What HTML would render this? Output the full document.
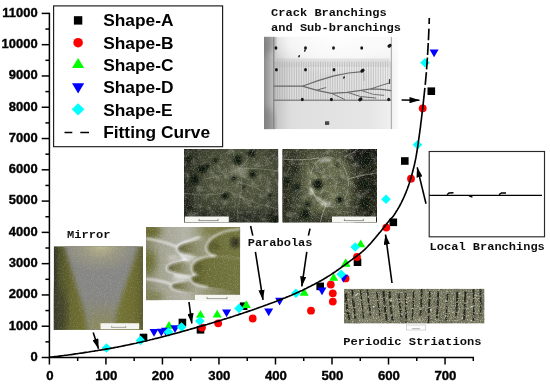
<!DOCTYPE html><html><head><meta charset="utf-8"><title>Fracture surface chart</title>
<style>html,body{margin:0;padding:0;background:#fff}svg{display:block}.ax{font-family:"Liberation Sans",sans-serif;font-weight:bold;font-size:12px;fill:#000;stroke:#000;stroke-width:0.35px}.lg{font-family:"Liberation Sans",sans-serif;font-weight:bold;font-size:17px;fill:#000}.an{font-family:"Liberation Mono",monospace;font-weight:bold;font-size:10.2px;fill:#111}</style></head><body>
<svg width="550" height="386" viewBox="0 0 550 386">
<defs>
<filter id="soft" x="-5%" y="-5%" width="110%" height="110%"><feGaussianBlur stdDeviation="0.45"/></filter>
<filter id="b1"><feGaussianBlur stdDeviation="1"/></filter>
<filter id="b15"><feGaussianBlur stdDeviation="1.5"/></filter>
<filter id="b2"><feGaussianBlur stdDeviation="2"/></filter>
<filter id="b3"><feGaussianBlur stdDeviation="3.5"/></filter>
<filter id="b6"><feGaussianBlur stdDeviation="6"/></filter>
<filter id="noiseA" x="0" y="0" width="100%" height="100%">
  <feTurbulence type="fractalNoise" baseFrequency="0.85" numOctaves="2" seed="3" result="n"/>
  <feColorMatrix in="n" type="matrix" values="0 0 0 0 0.96  0 0 0 0 0.96  0 0 0 0 0.88  3.2 0 0 0 -1.55" result="c"/>
  <feGaussianBlur in="c" stdDeviation="0.3"/>
</filter>
<filter id="mottle" x="0" y="0" width="100%" height="100%">
  <feTurbulence type="fractalNoise" baseFrequency="0.11" numOctaves="3" seed="11" result="n"/>
  <feColorMatrix in="n" type="matrix" values="0 0 0 0 0.06  0 0 0 0 0.07  0 0 0 0 0.04  0 3.0 0 0 -1.3"/>
</filter>
<filter id="mottleW" x="0" y="0" width="100%" height="100%">
  <feTurbulence type="fractalNoise" baseFrequency="0.16" numOctaves="3" seed="23" result="n"/>
  <feColorMatrix in="n" type="matrix" values="0 0 0 0 0.9  0 0 0 0 0.92  0 0 0 0 0.84  0 0 3.0 0 -1.45"/>
</filter>
<filter id="noiseD" x="0" y="0" width="100%" height="100%">
  <feTurbulence type="fractalNoise" baseFrequency="0.6" numOctaves="2" seed="8" result="n"/>
  <feColorMatrix in="n" type="matrix" values="0 0 0 0 0  0 0 0 0 0  0 0 0 0 0  0 2.2 0 0 -0.95" result="c"/><feGaussianBlur in="c" stdDeviation="0.35"/>
</filter>
<marker id="ah" viewBox="0 0 10 6" refX="9.6" refY="3" markerWidth="10.6" markerHeight="6.2" orient="auto" markerUnits="userSpaceOnUse"><path d="M0,0 L10,3 L0,6 z" fill="#000"/></marker>
</defs>
<rect width="550" height="386" fill="#fff"/>
<g filter="url(#soft)">
<g stroke="#000" stroke-width="1.5" fill="none">
<path d="M49.4,12.699999999999978 V357.5 H474.0"/>
<path d="M41.699999999999996,357.50 H49.4"/>
<path d="M45.4,341.86 H49.4"/>
<path d="M41.699999999999996,326.22 H49.4"/>
<path d="M45.4,310.58 H49.4"/>
<path d="M41.699999999999996,294.94 H49.4"/>
<path d="M45.4,279.30 H49.4"/>
<path d="M41.699999999999996,263.65 H49.4"/>
<path d="M45.4,248.01 H49.4"/>
<path d="M41.699999999999996,232.37 H49.4"/>
<path d="M45.4,216.73 H49.4"/>
<path d="M41.699999999999996,201.09 H49.4"/>
<path d="M45.4,185.45 H49.4"/>
<path d="M41.699999999999996,169.81 H49.4"/>
<path d="M45.4,154.17 H49.4"/>
<path d="M41.699999999999996,138.53 H49.4"/>
<path d="M45.4,122.89 H49.4"/>
<path d="M41.699999999999996,107.25 H49.4"/>
<path d="M45.4,91.60 H49.4"/>
<path d="M41.699999999999996,75.96 H49.4"/>
<path d="M45.4,60.32 H49.4"/>
<path d="M41.699999999999996,44.68 H49.4"/>
<path d="M45.4,29.04 H49.4"/>
<path d="M41.699999999999996,13.40 H49.4"/>
<path d="M49.40,357.5 V364.5"/>
<path d="M77.66,357.5 V361.0"/>
<path d="M105.92,357.5 V364.5"/>
<path d="M134.18,357.5 V361.0"/>
<path d="M162.44,357.5 V364.5"/>
<path d="M190.70,357.5 V361.0"/>
<path d="M218.96,357.5 V364.5"/>
<path d="M247.22,357.5 V361.0"/>
<path d="M275.48,357.5 V364.5"/>
<path d="M303.74,357.5 V361.0"/>
<path d="M332.00,357.5 V364.5"/>
<path d="M360.26,357.5 V361.0"/>
<path d="M388.52,357.5 V364.5"/>
<path d="M416.78,357.5 V361.0"/>
<path d="M445.04,357.5 V364.5"/>
<path d="M473.30,357.5 V361.0"/>
</g>
<text class="ax" transform="translate(37.6,360.90) scale(1.08,1)" text-anchor="end">0</text>
<text class="ax" transform="translate(37.6,329.62) scale(1.08,1)" text-anchor="end">1000</text>
<text class="ax" transform="translate(37.6,298.34) scale(1.08,1)" text-anchor="end">2000</text>
<text class="ax" transform="translate(37.6,267.05) scale(1.08,1)" text-anchor="end">3000</text>
<text class="ax" transform="translate(37.6,235.77) scale(1.08,1)" text-anchor="end">4000</text>
<text class="ax" transform="translate(37.6,204.49) scale(1.08,1)" text-anchor="end">5000</text>
<text class="ax" transform="translate(37.6,173.21) scale(1.08,1)" text-anchor="end">6000</text>
<text class="ax" transform="translate(37.6,141.93) scale(1.08,1)" text-anchor="end">7000</text>
<text class="ax" transform="translate(37.6,110.65) scale(1.08,1)" text-anchor="end">8000</text>
<text class="ax" transform="translate(37.6,79.36) scale(1.08,1)" text-anchor="end">9000</text>
<text class="ax" transform="translate(37.6,48.08) scale(1.08,1)" text-anchor="end">10000</text>
<text class="ax" transform="translate(37.6,16.80) scale(1.08,1)" text-anchor="end">11000</text>
<text class="ax" transform="translate(49.80,380) scale(1.1,1)" text-anchor="middle">0</text>
<text class="ax" transform="translate(106.32,380) scale(1.1,1)" text-anchor="middle">100</text>
<text class="ax" transform="translate(162.84,380) scale(1.1,1)" text-anchor="middle">200</text>
<text class="ax" transform="translate(219.36,380) scale(1.1,1)" text-anchor="middle">300</text>
<text class="ax" transform="translate(275.88,380) scale(1.1,1)" text-anchor="middle">400</text>
<text class="ax" transform="translate(332.40,380) scale(1.1,1)" text-anchor="middle">500</text>
<text class="ax" transform="translate(388.92,380) scale(1.1,1)" text-anchor="middle">600</text>
<text class="ax" transform="translate(445.44,380) scale(1.1,1)" text-anchor="middle">700</text>
<rect x="139.7" y="333.7" width="7.6" height="7.6" fill="#000"/>
<rect x="178.6" y="318.7" width="7.6" height="7.6" fill="#000"/>
<rect x="196.7" y="326.0" width="7.6" height="7.6" fill="#000"/>
<rect x="239.8" y="302.4" width="7.6" height="7.6" fill="#000"/>
<rect x="316.4" y="282.6" width="7.6" height="7.6" fill="#000"/>
<rect x="353.7" y="258.4" width="7.6" height="7.6" fill="#000"/>
<rect x="389.5" y="218.5" width="7.6" height="7.6" fill="#000"/>
<rect x="401.0" y="157.2" width="7.6" height="7.6" fill="#000"/>
<rect x="427.5" y="87.4" width="7.6" height="7.6" fill="#000"/>
<circle cx="311.0" cy="310.7" r="3.9" fill="#ff0000"/>
<circle cx="202.0" cy="327.6" r="3.9" fill="#ff0000"/>
<circle cx="218.2" cy="323.3" r="3.9" fill="#ff0000"/>
<circle cx="252.7" cy="318.5" r="3.9" fill="#ff0000"/>
<circle cx="330.8" cy="284.6" r="3.9" fill="#ff0000"/>
<circle cx="332.8" cy="293.3" r="3.9" fill="#ff0000"/>
<circle cx="332.8" cy="301.6" r="3.9" fill="#ff0000"/>
<circle cx="345.6" cy="278.4" r="3.9" fill="#ff0000"/>
<circle cx="357.0" cy="257.0" r="3.9" fill="#ff0000"/>
<circle cx="386.3" cy="227.6" r="3.9" fill="#ff0000"/>
<circle cx="411.0" cy="178.7" r="3.9" fill="#ff0000"/>
<circle cx="422.7" cy="108.3" r="3.9" fill="#ff0000"/>
<path d="M164.5,328.7 L173.5,328.7 L169.0,321.0 z" fill="#00ff00"/>
<path d="M196.0,317.7 L205.0,317.7 L200.5,310.0 z" fill="#00ff00"/>
<path d="M212.7,317.4 L221.7,317.4 L217.2,309.7 z" fill="#00ff00"/>
<path d="M241.8,307.9 L250.8,307.9 L246.3,300.2 z" fill="#00ff00"/>
<path d="M299.7,295.8 L308.7,295.8 L304.2,288.1 z" fill="#00ff00"/>
<path d="M329.2,280.8 L338.2,280.8 L333.7,273.1 z" fill="#00ff00"/>
<path d="M341.1,266.2 L350.1,266.2 L345.6,258.5 z" fill="#00ff00"/>
<path d="M341.4,266.8 L350.4,266.8 L345.9,259.1 z" fill="#00ff00"/>
<path d="M356.2,247.2 L365.2,247.2 L360.7,239.5 z" fill="#00ff00"/>
<path d="M149.5,329.1 L158.5,329.1 L154.0,336.8 z" fill="#0000ff"/>
<path d="M156.8,328.8 L165.8,328.8 L161.3,336.5 z" fill="#0000ff"/>
<path d="M161.0,327.8 L170.0,327.8 L165.5,335.5 z" fill="#0000ff"/>
<path d="M170.5,325.2 L179.5,325.2 L175.0,332.9 z" fill="#0000ff"/>
<path d="M222.1,309.5 L231.1,309.5 L226.6,317.2 z" fill="#0000ff"/>
<path d="M264.2,308.5 L273.2,308.5 L268.7,316.2 z" fill="#0000ff"/>
<path d="M275.1,297.8 L284.1,297.8 L279.6,305.5 z" fill="#0000ff"/>
<path d="M317.5,287.5 L326.5,287.5 L322.0,295.2 z" fill="#0000ff"/>
<path d="M339.0,274.8 L348.0,274.8 L343.5,282.5 z" fill="#0000ff"/>
<path d="M429.6,49.5 L438.6,49.5 L434.1,57.2 z" fill="#0000ff"/>
<path d="M101.7,348.0 L106.5,343.2 L111.3,348.0 L106.5,352.8 z" fill="#00ffff"/>
<path d="M135.7,340.4 L140.5,335.6 L145.3,340.4 L140.5,345.2 z" fill="#00ffff"/>
<path d="M163.7,332.0 L168.5,327.2 L173.3,332.0 L168.5,336.8 z" fill="#00ffff"/>
<path d="M176.8,327.0 L181.6,322.2 L186.4,327.0 L181.6,331.8 z" fill="#00ffff"/>
<path d="M195.0,321.0 L199.8,316.2 L204.6,321.0 L199.8,325.8 z" fill="#00ffff"/>
<path d="M234.2,308.4 L239.0,303.6 L243.8,308.4 L239.0,313.2 z" fill="#00ffff"/>
<path d="M291.1,293.3 L295.9,288.5 L300.7,293.3 L295.9,298.1 z" fill="#00ffff"/>
<path d="M336.4,274.3 L341.2,269.5 L346.0,274.3 L341.2,279.1 z" fill="#00ffff"/>
<path d="M350.4,247.0 L355.2,242.2 L360.0,247.0 L355.2,251.8 z" fill="#00ffff"/>
<path d="M381.2,199.2 L386.0,194.4 L390.8,199.2 L386.0,204.0 z" fill="#00ffff"/>
<path d="M412.7,144.8 L417.5,140.0 L422.3,144.8 L417.5,149.6 z" fill="#00ffff"/>
<path d="M420.2,62.7 L425.0,57.9 L429.8,62.7 L425.0,67.5 z" fill="#00ffff"/>
<path fill="none" stroke="#000" stroke-width="1.65" stroke-linejoin="round" d="M49.3,357.3 L50.8,357.1 L52.2,357.0 L53.7,356.8 L55.1,356.6 L56.6,356.5 L58.0,356.3 L59.5,356.1 L61.0,355.9 L62.4,355.7 L63.9,355.5 L65.3,355.3 L66.8,355.2 L68.2,355.0 L69.7,354.8 L71.1,354.6 L72.6,354.4 L74.0,354.1 L75.5,353.9 L76.9,353.7 L78.4,353.5 L79.8,353.3 L81.3,353.1 L82.7,352.9 L84.2,352.6 L85.6,352.4 L87.1,352.2 L88.5,352.0 L90.0,351.7 L91.4,351.5 L92.9,351.3 L94.3,351.1 L95.8,350.8 L97.2,350.6 L98.7,350.3 L100.1,350.1 L101.6,349.9 L103.0,349.6 L104.4,349.4 L105.9,349.1 L107.3,348.9 L108.8,348.7 L110.2,348.4 L111.7,348.1 L113.1,347.9 L114.6,347.6 L116.0,347.3 L117.4,347.1 L118.9,346.8 L120.3,346.5 L121.8,346.2 L123.2,345.9 L124.6,345.6 L126.1,345.3 L127.5,345.0 L128.9,344.7 L130.4,344.4 L131.8,344.1 L133.2,343.8 L134.7,343.5 L136.1,343.2 L137.5,342.8 L138.9,342.5 L140.4,342.2 L141.8,341.9 L143.2,341.5 L144.7,341.2 L146.1,340.9 L147.5,340.5 L148.9,340.2 L150.4,339.8 L151.8,339.5 L153.2,339.1 L154.6,338.8 L156.1,338.4 L157.5,338.1 L158.9,337.7 L160.3,337.4 L161.8,337.0 L163.2,336.6 L164.6,336.3 L166.0,335.9 L167.4,335.5 L168.9,335.1 L170.3,334.8 L171.7,334.4 L173.1,334.0 L174.5,333.6 L175.9,333.2 L177.4,332.9 L178.8,332.5 L180.2,332.1 L181.6,331.7 L183.0,331.3 L184.4,330.9 L185.8,330.5 L187.3,330.1 L188.7,329.7 L190.1,329.3 L191.5,328.9 L192.9,328.5 L194.3,328.1 L195.7,327.7 L197.1,327.3 L198.5,326.9 L199.9,326.5 L201.3,326.1 L202.8,325.7 L204.2,325.3 L205.6,324.9 L207.0,324.5 L208.4,324.0 L209.8,323.6 L211.2,323.2 L212.6,322.8 L214.0,322.4 L215.4,321.9 L216.8,321.5 L218.2,321.1 L219.6,320.6 L221.0,320.2 L222.4,319.8 L223.8,319.3 L225.2,318.9 L226.6,318.5 L228.0,318.0 L229.4,317.6 L230.8,317.1 L232.2,316.7 L233.6,316.2 L235.0,315.8 L236.4,315.3 L237.8,314.9 L239.2,314.4 L240.6,313.9 L242.0,313.5 L243.4,313.0 L244.8,312.5 L246.1,312.1 L247.5,311.6 L248.9,311.1 L250.3,310.6 L251.7,310.2 L253.1,309.7 L254.5,309.2 L255.9,308.7 L257.2,308.2 L258.6,307.7 L260.0,307.2 L261.4,306.8 L262.8,306.3 L264.1,305.8 L265.5,305.3 L266.9,304.8 L268.3,304.2 L269.6,303.7 L271.0,303.2 L272.4,302.7 L273.8,302.2 L275.1,301.7 L276.5,301.2 L277.9,300.6 L279.2,300.1 L280.6,299.6 L282.0,299.1 L283.3,298.5 L284.7,298.0 L286.0,297.4 L287.4,296.9 L288.8,296.3 L290.1,295.7 L291.5,295.2 L292.8,294.6 L294.2,294.0 L295.5,293.4 L296.8,292.8 L298.2,292.2 L299.5,291.6 L300.8,291.0 L302.2,290.4 L303.5,289.7 L304.8,289.1 L306.1,288.5 L307.4,287.8 L308.7,287.1 L310.1,286.5 L311.4,285.8 L312.7,285.1 L314.0,284.5 L315.3,283.8 L316.6,283.1 L317.8,282.4 L319.1,281.6 L320.4,280.9 L321.7,280.2 L323.0,279.5 L324.2,278.7 L325.5,278.0 L326.7,277.2 L328.0,276.4 L329.2,275.7 L330.5,274.9 L331.7,274.1 L332.9,273.3 L334.1,272.5 L335.3,271.7 L336.5,270.8 L337.7,270.0 L338.9,269.1 L340.1,268.3 L341.3,267.4 L342.5,266.5 L343.7,265.7 L344.9,264.8 L346.1,263.9 L347.2,263.1 L348.4,262.2 L349.6,261.3 L350.8,260.4 L352.0,259.6 L353.1,258.7 L354.3,257.8 L355.5,257.0 L356.7,256.1 L357.9,255.2 L359.1,254.3 L360.2,253.4 L361.3,252.5 L362.4,251.5 L363.5,250.6 L364.6,249.6 L365.6,248.6 L366.7,247.5 L367.7,246.5 L368.7,245.4 L369.7,244.4 L370.7,243.3 L371.6,242.2 L372.6,241.0 L373.6,239.9 L374.5,238.8 L375.5,237.7 L376.4,236.5 L377.3,235.4 L378.3,234.3 L379.2,233.1 L380.2,232.0 L381.1,230.9 L382.0,229.8 L383.0,228.6 L383.9,227.5 L384.8,226.3 L385.7,225.2 L386.6,224.0 L387.5,222.8 L388.4,221.7 L389.3,220.6 L390.3,219.4 L391.3,218.4 L392.3,217.3 L393.2,216.2 L394.1,215.0 L394.9,213.8 L395.6,212.6 L396.4,211.3 L397.2,210.1 L397.9,208.8 L398.7,207.6 L399.4,206.3 L400.1,205.0 L400.8,203.7 L401.5,202.3 L402.1,201.0 L402.8,199.7 L403.4,198.3 L404.0,197.0 L404.6,195.6 L405.2,194.2 L405.8,192.9 L406.3,191.5 L406.8,190.2 L407.4,188.8 L407.8,187.4 L408.3,186.1 L408.8,184.7 L409.3,183.3 L409.7,181.9 L410.2,180.5 L410.6,179.1 L411.0,177.7 L411.4,176.3 L411.8,174.9 L412.2,173.5 L412.6,172.0 L413.0,170.6 L413.3,169.2 L413.7,167.8 L414.0,166.3 L414.4,164.9 L414.7,163.4 L415.0,162.0 L415.3,160.6 L415.6,159.1 L415.9,157.7 L416.1,156.3 L416.4,154.8 L416.6,153.4 L416.9,152.0 L417.1,150.5 L417.3,149.1 L417.6,147.6 L417.8,146.2 L418.0,144.7 L418.2,143.3 L418.4,141.8 L418.6,140.3 L418.8,138.9 L419.0,137.4 L419.2,136.0 L419.4,134.5 L419.6,133.1 L419.8,131.6 L420.0,130.2 L420.2,128.7 L420.4,127.3 L420.6,125.8 L420.7,124.3 L420.9,122.9 L421.1,121.4 L421.3,120.0 L421.5,118.5 L421.6,117.1 L421.8,115.6 L422.0,114.2 L422.2,112.7 L422.3,111.2 L422.5,109.8 L422.7,108.3 L422.8,106.9 L423.0,105.4 L423.2,104.0 L423.3,102.5 L423.5,101.0 L423.6,99.6 L423.8,98.1 L424.0,96.7 L424.1,95.2 L424.3,93.8 L424.4,92.3 L424.6,90.8 L424.7,89.4 L424.9,87.9"/>
<path stroke="#000" stroke-width="1.65" d="M429.29,18 L429.12,23.9"/>
<path stroke="#000" stroke-width="1.65" d="M428.95,28.6 L428.42,40.2"/>
<path stroke="#000" stroke-width="1.65" d="M428.27,43 L427.56,55"/>
<path stroke="#000" stroke-width="1.65" d="M427.40,57.6 L426.60,69.4"/>
<path stroke="#000" stroke-width="1.65" d="M426.39,72.2 L425.22,84.8"/>
</g>
<g filter="url(#soft)">
<rect x="53.6" y="5.9" width="169" height="140.8" fill="#fff" stroke="#1a1a1a" stroke-width="1.15"/>
<rect x="73.9" y="16.2" width="8.4" height="8.4" fill="#000"/>
<circle cx="78.1" cy="42.7" r="4.8" fill="#ff0000"/>
<path d="M72.0,68.1 L84.2,68.1 L78.1,58.1 z" fill="#00ff00"/>
<path d="M72.0,83.2 L84.2,83.2 L78.1,93.4 z" fill="#0000ff"/>
<path d="M71.8,109.3 L78.1,103.2 L84.4,109.3 L78.1,115.4 z" fill="#00ffff"/>
<path d="M64.5,132.5 H72.3 M80.3,132.5 H89" stroke="#000" stroke-width="1.7"/>
<text class="lg" transform="translate(103.2,26.3) scale(1.02,1)">Shape-A</text>
<text class="lg" transform="translate(103.2,48.7) scale(1.02,1)">Shape-B</text>
<text class="lg" transform="translate(103.2,71.0) scale(1.02,1)">Shape-C</text>
<text class="lg" transform="translate(103.2,93.4) scale(1.02,1)">Shape-D</text>
<text class="lg" transform="translate(103.2,115.7) scale(1.02,1)">Shape-E</text>
<text class="lg" transform="translate(103.2,138.1) scale(1.02,1)">Fitting Curve</text>
</g>
<g filter="url(#soft)">
<text class="an" x="271" y="16.3" textLength="115.7" lengthAdjust="spacingAndGlyphs">Crack Branchings</text>
<text class="an" x="271" y="31" textLength="130" lengthAdjust="spacingAndGlyphs">and Sub-branchings</text>
<text class="an" x="67" y="238" textLength="43.5" lengthAdjust="spacingAndGlyphs">Mirror</text>
<text class="an" x="247.7" y="245.7" textLength="64.8" lengthAdjust="spacingAndGlyphs">Parabolas</text>
<text class="an" x="429.6" y="250.1" textLength="115.2" lengthAdjust="spacingAndGlyphs">Local Branchings</text>
<text class="an" x="343.3" y="344.8" textLength="138.2" lengthAdjust="spacingAndGlyphs">Periodic Striations</text>
<g stroke="#000" stroke-width="1.6" fill="none">
<path d="M250.6,226 L252.8,235.6"/>
<path d="M255.4,251.8 L263,299.8" marker-end="url(#ah)"/>
<path d="M310,228.6 L308.4,235.6"/>
<path d="M306.8,251.8 L301.8,286.3" marker-end="url(#ah)"/>
<path d="M189,302 L191.8,323.3" marker-end="url(#ah)"/>
<path d="M93.2,332.4 L98.5,348.7" marker-end="url(#ah)"/>
<path d="M392,283 L385.5,234.7" marker-end="url(#ah)"/>
<path d="M426,203.8 L417.2,167.4" marker-end="url(#ah)"/>
<path d="M401.6,100 L419.4,100.2" marker-end="url(#ah)"/>
</g>
</g>
<g filter="url(#soft)">
<rect x="429.2" y="151.5" width="115.3" height="85.3" fill="#fff" stroke="#2a2a2a" stroke-width="1.15"/>
<path d="M429.2,195.4 H542" stroke="#000" stroke-width="1.1"/>
<path d="M447,194.8 l2,-1.8 l4.5,-0.2 M469,195.8 l3.5,1.3 M499,194.6 l2.5,-1.6 l4.5,0" stroke="#000" stroke-width="1.4" fill="none"/>
</g>
<svg x="53.7" y="246.2" width="89.4" height="83.7" viewBox="0 0 89.4 83.7">
<defs><linearGradient id="mg" x1="0" x2="1"><stop offset="0" stop-color="#30322a"/><stop offset="0.07" stop-color="#505229"/><stop offset="0.2" stop-color="#66662f"/><stop offset="0.38" stop-color="#727233"/><stop offset="0.7" stop-color="#747434"/><stop offset="0.9" stop-color="#6c6c30"/><stop offset="1" stop-color="#5a5b2e"/></linearGradient><radialGradient id="mg2" cx="0.5" cy="0" r="0.75"><stop offset="0" stop-color="#bcb890"/><stop offset="0.4" stop-color="#a8a480" stop-opacity="0.5"/><stop offset="0.8" stop-color="#a8a480" stop-opacity="0"/></radialGradient><linearGradient id="mg3" x1="0" x2="0" y1="0" y2="1"><stop offset="0" stop-color="#8c8a50" stop-opacity="0"/><stop offset="1" stop-color="#8c8a50" stop-opacity="0.85"/></linearGradient></defs>
<rect width="89.4" height="83.7" fill="url(#mg)"/>
<ellipse cx="2" cy="66" rx="11" ry="26" fill="#3a3c2a" opacity="0.75" filter="url(#b3)"/>
<path d="M9,-5 L87,-5 L62.5,66 L59,92 L36,92 L31,66 z" fill="#868684" filter="url(#b2)"/>
<rect x="14" y="0" width="66" height="44" fill="url(#mg2)"/>
<path d="M32,52 L62,52 L58,84 L37,84 z" fill="url(#mg3)" filter="url(#b2)"/>
<rect width="89.4" height="83.7" filter="url(#noiseA)" opacity="0.14"/>
<rect x="46.8" y="77" width="38.7" height="6" fill="#f4f4f0"/>
<path d="M58,81.6 v-2 M72,81.6 v-2 M58,81.2 H72" stroke="#777" stroke-width="0.6" fill="none"/>
</svg>
<svg x="146" y="227" width="94.2" height="73.3" viewBox="0 0 94.2 73.3">
<defs><linearGradient id="p3" x1="0" x2="1"><stop offset="0" stop-color="#858668"/><stop offset="0.15" stop-color="#a2a290"/><stop offset="0.42" stop-color="#b2b2a6"/><stop offset="0.68" stop-color="#90916e"/><stop offset="1" stop-color="#6f713e"/></linearGradient><linearGradient id="lfL" x1="0" x2="1"><stop offset="0" stop-color="#5c5d36"/><stop offset="0.45" stop-color="#797a50" stop-opacity="0.92"/><stop offset="1" stop-color="#96967a" stop-opacity="0.5"/></linearGradient><linearGradient id="lfR" x1="0" x2="1"><stop offset="0" stop-color="#5a5c2e"/><stop offset="0.4" stop-color="#6e7038"/><stop offset="1" stop-color="#73753f"/></linearGradient><linearGradient id="lfR2" gradientUnits="userSpaceOnUse" x1="44" x2="94" y1="0" y2="0"><stop offset="0" stop-color="#62642f"/><stop offset="0.35" stop-color="#6c6e38"/><stop offset="1" stop-color="#72743e"/></linearGradient><linearGradient id="lsk" x1="0" x2="1"><stop offset="0" stop-color="#f4f4fa"/><stop offset="0.35" stop-color="#e8e8e8" stop-opacity="0.75"/><stop offset="0.7" stop-color="#d0d0c0" stop-opacity="0.15"/><stop offset="1" stop-color="#d0d0c0" stop-opacity="0"/></linearGradient></defs>
<rect width="94.2" height="73.3" fill="url(#p3)"/>
<g filter="url(#b3)"><ellipse cx="4" cy="4" rx="11" ry="8" fill="#66682f"/><ellipse cx="2" cy="35" rx="8" ry="12" fill="#6c6e34"/><ellipse cx="6" cy="70" rx="12" ry="5" fill="#7c7c4c"/><ellipse cx="75" cy="4" rx="22" ry="5" fill="#77783f"/></g>
<g filter="url(#b1)" stroke="#f0f0f6" stroke-width="2.2" fill="none" opacity="0.9"><path d="M0,11.5 Q18,14 31,20 M32,19 Q42,13 54,10 M0,52 Q14,53 25,57 M34,27 Q40,33 45,38 M28,48 Q38,50 44,50 M40,33 Q34,34 30,37"/></g>
<path d="M60,13.2 C39.7,14.52 31,16.72 31,22 C31,26.8 39.7,28.8 60,30" fill="url(#lfL)"/><path d="M60,13.2 C39.7,14.52 31,16.72 31,22 C31,26.8 39.7,28.8 60,30" fill="none" stroke="url(#lsk)" stroke-width="1.7" filter="url(#b1)"/>
<path d="M46.7,33.2 C28.5,34.445 20.7,36.519999999999996 20.7,41.5 C20.7,45.22 28.5,46.769999999999996 46.7,47.7" fill="url(#lfL)"/><path d="M46.7,33.2 C28.5,34.445 20.7,36.519999999999996 20.7,41.5 C20.7,45.22 28.5,46.769999999999996 46.7,47.7" fill="none" stroke="url(#lsk)" stroke-width="1.7" filter="url(#b1)"/>
<path d="M48.9,54 C32.099999999999994,54.75 24.9,56.0 24.9,59 C24.9,62.78 32.099999999999994,64.355 48.9,65.3" fill="url(#lfL)"/><path d="M48.9,54 C32.099999999999994,54.75 24.9,56.0 24.9,59 C24.9,62.78 32.099999999999994,64.355 48.9,65.3" fill="none" stroke="url(#lsk)" stroke-width="1.7" filter="url(#b1)"/>
<g filter="url(#b2)" fill="#f4f4f8" opacity="0.55"><ellipse cx="42" cy="31" rx="7" ry="3.5"/><ellipse cx="34" cy="51.5" rx="8" ry="2.6"/><ellipse cx="27" cy="31" rx="5" ry="2"/></g>
<path d="M94.2,2 C80,3 62,8 60,20.7 C60,25 64,28 70.5,29 C60,29.5 47,32 45.6,40.5 C45.6,44 47,46.5 49.8,47.7 C46.5,48.2 44.6,49.5 44.6,51.9 C44.6,56 52,59 64,60 C76,61 88,64 94.2,67 L94.2,2 z" fill="url(#lfR2)"/>
<g filter="url(#b2)" fill="#55572a" opacity="0.8"><ellipse cx="68" cy="19" rx="6" ry="5"/><ellipse cx="52" cy="40" rx="5" ry="4"/><ellipse cx="50" cy="53" rx="4" ry="3"/></g>
<path d="M94.2,2 C80,3 62,8 60,20.7 C60,25 64,28 70.5,29 C60,29.5 47,32 45.6,40.5 C45.6,44 47,46.5 49.8,47.7 C46.5,48.2 44.6,49.5 44.6,51.9 C44.6,56 52,59 62,60" fill="none" stroke="#f0f0f4" stroke-width="1.7" opacity="0.9" filter="url(#b1)"/>
<path d="M70.5,29 C78,30 86,31 94,32" fill="none" stroke="#d8d8c8" stroke-width="1.2" opacity="0.35" filter="url(#b1)"/>
<ellipse cx="89" cy="15.5" rx="4.5" ry="5.5" fill="#2a2c1c" filter="url(#b2)"/>
<rect width="94.2" height="73.3" filter="url(#noiseA)" opacity="0.18"/>
<rect x="49" y="67.8" width="45.2" height="5.5" fill="#f6f6f2"/>
<path d="M61,72 v-2.2 M81,72 v-2.2 M61,71.6 H81" stroke="#666" stroke-width="0.6" fill="none"/>
</svg>
<svg x="184" y="149" width="94.4" height="73.5" viewBox="0 0 94.4 73.5">
<defs><radialGradient id="p1" cx="0.58" cy="0.4" r="0.7"><stop offset="0" stop-color="#5e6247"/><stop offset="0.5" stop-color="#494d37"/><stop offset="0.85" stop-color="#303326"/><stop offset="1" stop-color="#22241a"/></radialGradient></defs>
<rect width="94.4" height="73.5" fill="url(#p1)"/>
<g filter="url(#b3)" opacity="0.8"><rect x="-4" y="-4" width="12" height="82" fill="#1c1e14"/><rect x="0" y="62" width="95" height="14" fill="#23251a"/><ellipse cx="92" cy="70" rx="9" ry="8" fill="#15170f"/></g>
<rect width="94.4" height="73.5" filter="url(#mottle)" opacity="0.75"/>
<rect width="94.4" height="73.5" filter="url(#mottleW)" opacity="0.22"/>
<g filter="url(#b15)"><circle cx="18.0" cy="20.3" r="4.6" fill="#101208"/><circle cx="10.3" cy="30.8" r="5" fill="#101208"/><circle cx="53.7" cy="11.0" r="5" fill="#101208"/><circle cx="67.6" cy="4.8" r="4.2" fill="#101208"/><circle cx="68.7" cy="25.3" r="3.6" fill="#101208"/><circle cx="41.2" cy="47.1" r="3.6" fill="#101208"/><circle cx="50.0" cy="29.1" r="2.6" fill="#101208"/><circle cx="31.3" cy="11.4" r="2.6" fill="#101208"/><circle cx="90.7" cy="70.9" r="4" fill="#101208"/><circle cx="86.3" cy="46.7" r="2" fill="#101208"/><circle cx="23.6" cy="16.9" r="2.4" fill="#101208"/><circle cx="59.9" cy="37.9" r="2" fill="#101208"/><circle cx="4.8" cy="9.2" r="3" fill="#101208"/></g>
<g filter="url(#soft)"><circle cx="18.0" cy="20.3" r="1.518" fill="#101208"/><circle cx="10.3" cy="30.8" r="1.6500000000000001" fill="#101208"/><circle cx="53.7" cy="11.0" r="1.6500000000000001" fill="#101208"/><circle cx="67.6" cy="4.8" r="1.3860000000000001" fill="#101208"/><circle cx="68.7" cy="25.3" r="1.1880000000000002" fill="#101208"/><circle cx="41.2" cy="47.1" r="1.1880000000000002" fill="#101208"/><circle cx="50.0" cy="29.1" r="0.8580000000000001" fill="#101208"/><circle cx="31.3" cy="11.4" r="0.8580000000000001" fill="#101208"/><circle cx="90.7" cy="70.9" r="1.32" fill="#101208"/><circle cx="86.3" cy="46.7" r="0.66" fill="#101208"/><circle cx="23.6" cy="16.9" r="0.792" fill="#101208"/><circle cx="59.9" cy="37.9" r="0.66" fill="#101208"/><circle cx="4.8" cy="9.2" r="0.99" fill="#101208"/></g>
<g stroke="#d4d7ca" stroke-width="0.6" fill="none" opacity="0.4" filter="url(#soft)"><path d="M48,0 Q52,14 55,20 Q60,34 56,48 Q52,60 54,73 M55,20 Q70,18 94,22 M20,30 Q36,28 55,20 M56,48 Q74,56 94,60 M0,44 Q20,48 40,44 M55,20 Q66,10 70,0 M56,34 Q70,36 80,44"/></g>
<ellipse cx="55" cy="22" rx="9" ry="5" fill="#b8bbaa" opacity="0.35" filter="url(#b2)"/>
<rect width="94.4" height="73.5" filter="url(#noiseA)" opacity="0.22"/>
<rect x="0.8" y="67.5" width="44" height="6" fill="#f6f6f2"/>
<path d="M15,72 v-2.2 M34,72 v-2.2 M15,71.6 H34" stroke="#555" stroke-width="0.6" fill="none"/>
</svg>
<svg x="282.4" y="149" width="94.6" height="73.5" viewBox="0 0 94.6 73.5">
<rect width="94.6" height="73.5" fill="#42462f"/>
<ellipse cx="44" cy="36" rx="27" ry="30" fill="#666a4c" filter="url(#b6)"/>
<g filter="url(#b3)" opacity="0.9"><rect x="72" y="-4" width="30" height="82" fill="#14160e"/><ellipse cx="84" cy="4" rx="20" ry="13" fill="#0e100a"/><rect x="-4" y="-4" width="9" height="82" fill="#1a1c12"/><rect x="-4" y="-4" width="22" height="82" fill="#1a1c12" opacity="0.45"/><rect x="0" y="66" width="50" height="10" fill="#282a1e"/></g>
<rect width="94.6" height="73.5" filter="url(#mottle)" opacity="0.7"/>
<rect width="94.6" height="73.5" filter="url(#mottleW)" opacity="0.25"/>
<g filter="url(#b15)"><circle cx="35.4" cy="35.4" r="5.2" fill="#101208"/><circle cx="4.8" cy="31.6" r="4.2" fill="#101208"/><circle cx="14.4" cy="38.3" r="3.6" fill="#101208"/><circle cx="23.0" cy="65.0" r="4.6" fill="#101208"/><circle cx="25.0" cy="55.5" r="3" fill="#101208"/><circle cx="57.5" cy="50.8" r="3.6" fill="#101208"/><circle cx="82.4" cy="55.5" r="5" fill="#101208"/><circle cx="84.0" cy="36.4" r="5" fill="#101208"/><circle cx="84.0" cy="11.5" r="6" fill="#101208"/><circle cx="55.5" cy="16.3" r="1.6" fill="#101208"/><circle cx="12.0" cy="20.0" r="2.5" fill="#101208"/></g>
<g filter="url(#soft)"><circle cx="35.4" cy="35.4" r="1.8199999999999998" fill="#101208"/><circle cx="4.8" cy="31.6" r="1.47" fill="#101208"/><circle cx="14.4" cy="38.3" r="1.26" fill="#101208"/><circle cx="23.0" cy="65.0" r="1.6099999999999999" fill="#101208"/><circle cx="25.0" cy="55.5" r="1.0499999999999998" fill="#101208"/><circle cx="57.5" cy="50.8" r="1.26" fill="#101208"/><circle cx="82.4" cy="55.5" r="1.75" fill="#101208"/></g>
<g stroke="#f0f2e8" fill="none" filter="url(#soft)"><ellipse cx="47" cy="33" rx="19" ry="25" stroke-width="1" opacity="0.3" stroke-dasharray="7 3 11 4 4 5 9 2" transform="rotate(-8 47 33)"/><path d="M0,10 Q20,12 36,9 M28,40 Q34,50 44,55 Q40,64 38,73 M66,30 Q78,26 94,24 M62,8 Q70,4 76,0" stroke-width="0.8" opacity="0.45"/></g>
<g filter="url(#b1)" fill="#f4f6ee" opacity="0.45"><ellipse cx="44" cy="55" rx="6" ry="2.4"/><ellipse cx="43" cy="11" rx="7" ry="2"/><ellipse cx="29" cy="43" rx="2.5" ry="4"/><ellipse cx="36" cy="50" rx="3" ry="2"/></g>
<rect width="94.6" height="73.5" filter="url(#noiseA)" opacity="0.28"/>
<rect x="49.6" y="67.5" width="44" height="6" fill="#f6f6f2"/>
<path d="M62,72 v-2.2 M81,72 v-2.2 M62,71.6 H81" stroke="#555" stroke-width="0.6" fill="none"/>
</svg>
<svg x="344" y="288.8" width="140.5" height="34.8" viewBox="0 0 140.5 34.9" preserveAspectRatio="none">
<rect width="140.5" height="34.9" fill="#818268"/>
<rect width="140.5" height="34.9" filter="url(#mottle)" opacity="0.3"/>
<g stroke="#1a1b12" fill="none" filter="url(#soft)" opacity="0.88"><path stroke-width="2.2" stroke-dasharray="9.3 1.6 5.1 2.5" d="M1.9,4.8 Q2.2,17.9 5.1,30.9"/><path stroke-width="2.0" stroke-dasharray="6.2 1.8 8.9 1.1" d="M8.2,1.3 Q9.5,15.6 11.4,29.9"/><path stroke-width="1.4" stroke-dasharray="10.7 1.3 8.7 2.1" d="M16.4,0.0 Q18.1,14.7 19.6,29.4"/><path stroke-width="1.9" stroke-dasharray="6.0 1.7 6.0 1.7" d="M23.2,0.9 Q25.0,13.8 26.4,26.7"/><path stroke-width="1.5" stroke-dasharray="8.3 1.4 7.2 1.5" d="M32.7,2.6 Q34.1,14.8 35.9,27.0"/><path stroke-width="2.0" stroke-dasharray="6.1 1.3 6.5 2.0" d="M39.5,2.0 Q40.3,16.8 42.7,31.6"/><path stroke-width="2.1" stroke-dasharray="7.2 1.6 5.0 1.6" d="M45.5,2.8 Q46.2,17.2 48.7,31.6"/><path stroke-width="2.1" stroke-dasharray="7.5 1.9 6.0 1.4" d="M54.5,4.6 Q55.8,17.2 57.7,29.8"/><path stroke-width="1.9" stroke-dasharray="5.5 1.5 5.2 2.0" d="M61.4,4.2 Q62.3,18.9 62.2,33.7"/><path stroke-width="1.5" stroke-dasharray="8.2 1.0 7.1 1.4" d="M69.5,2.6 Q69.5,17.0 68.1,31.4"/><path stroke-width="1.9" stroke-dasharray="8.1 1.5 8.2 1.6" d="M77.7,0.2 Q77.7,13.6 76.3,27.0"/><path stroke-width="1.9" stroke-dasharray="5.9 1.2 8.3 1.4" d="M85.9,2.6 Q84.9,18.4 84.5,34.2"/><path stroke-width="1.9" stroke-dasharray="7.6 1.1 6.1 1.5" d="M94.1,2.4 Q94.2,15.9 92.7,29.5"/><path stroke-width="1.5" stroke-dasharray="9.4 1.6 8.1 1.4" d="M103.6,4.9 Q102.4,18.2 102.2,31.5"/><path stroke-width="2.0" stroke-dasharray="9.8 1.3 8.7 1.1" d="M113.2,3.1 Q113.4,15.1 111.8,27.1"/><path stroke-width="2.0" stroke-dasharray="10.9 2.0 4.2 0.8" d="M121.4,2.3 Q120.9,17.6 120.0,32.8"/><path stroke-width="1.8" stroke-dasharray="9.0 1.3 5.4 2.4" d="M129.5,0.2 Q129.9,16.0 129.5,31.9"/><path stroke-width="1.9" stroke-dasharray="6.7 1.3 7.9 1.4" d="M136.4,0.0 Q137.0,13.5 136.4,26.9"/></g><g fill="#f2f2ea" filter="url(#soft)" opacity="0.8"><circle cx="100.0" cy="19.1" r="0.6"/><circle cx="57.7" cy="25.6" r="1.0"/><circle cx="12.0" cy="6.2" r="0.9"/><circle cx="115.4" cy="4.8" r="0.9"/><circle cx="109.0" cy="23.3" r="0.7"/><circle cx="62.5" cy="13.4" r="0.9"/><circle cx="46.7" cy="12.0" r="1.0"/><circle cx="127.1" cy="32.0" r="0.9"/><circle cx="13.8" cy="4.8" r="0.8"/><circle cx="118.4" cy="29.4" r="0.8"/><circle cx="132.0" cy="6.7" r="0.6"/><circle cx="47.2" cy="10.0" r="0.7"/><circle cx="18.1" cy="13.6" r="0.5"/><circle cx="75.1" cy="31.3" r="0.7"/><circle cx="86.9" cy="21.0" r="1.0"/><circle cx="101.9" cy="27.6" r="0.7"/><circle cx="125.4" cy="7.7" r="0.7"/><circle cx="102.3" cy="12.3" r="0.9"/><circle cx="119.0" cy="7.1" r="0.6"/><circle cx="9.1" cy="28.6" r="0.7"/><circle cx="55.5" cy="10.4" r="0.6"/><circle cx="64.1" cy="9.3" r="0.8"/><circle cx="29.6" cy="17.9" r="1.0"/><circle cx="52.6" cy="31.6" r="0.5"/><circle cx="76.6" cy="20.6" r="1.0"/><circle cx="127.8" cy="17.8" r="0.9"/></g>
<rect width="140.5" height="34.9" filter="url(#noiseA)" opacity="0.5"/>
<rect width="140.5" height="34.9" filter="url(#noiseD)" opacity="0.35"/>
</svg>
<rect x="406.3" y="325" width="19.5" height="5" fill="#fdfdfd" stroke="#bbb" stroke-width="0.6"/>
<path d="M412,328.6 H420" stroke="#888" stroke-width="0.6"/>
<svg x="264" y="36.8" width="134.7" height="92.4" viewBox="0 0 134.7 92.4">
<defs><linearGradient id="cg" x1="0" x2="1"><stop offset="0" stop-color="#8c8c8c"/><stop offset="0.07" stop-color="#c0c0c0"/><stop offset="0.2" stop-color="#dedede"/><stop offset="0.8" stop-color="#e6e6e6"/><stop offset="0.94" stop-color="#f0f0f0"/><stop offset="1" stop-color="#fbfbfb"/></linearGradient><radialGradient id="cg2" cx="0.55" cy="0.0" r="0.62"><stop offset="0" stop-color="#fff"/><stop offset="0.6" stop-color="#fff" stop-opacity="0.7"/><stop offset="1" stop-color="#fff" stop-opacity="0"/></radialGradient></defs>
<rect width="134.7" height="92.4" fill="url(#cg)"/>
<rect width="134.7" height="62" fill="url(#cg2)"/>
<g filter="url(#b3)" opacity="0.55"><ellipse cx="2" cy="4" rx="9" ry="14" fill="#666"/><ellipse cx="2" cy="86" rx="9" ry="16" fill="#777"/></g>
<g stroke="#9c9c9c" stroke-width="0.65" opacity="0.75"><path d="M11.0,24.8 V63.4"/><path d="M13.4,24.8 V63.4"/><path d="M15.8,24.8 V63.4"/><path d="M18.2,24.8 V63.4"/><path d="M20.6,24.8 V63.4"/><path d="M23.0,24.8 V63.4"/><path d="M25.4,24.8 V63.4"/><path d="M27.8,24.8 V63.4"/><path d="M30.2,24.8 V63.4"/><path d="M32.6,24.8 V63.4"/><path d="M35.0,24.8 V63.4"/><path d="M37.4,24.8 V63.4"/><path d="M39.8,24.8 V63.4"/><path d="M42.2,24.8 V63.4"/><path d="M44.6,24.8 V63.4"/><path d="M47.0,24.8 V63.4"/><path d="M49.4,24.8 V63.4"/><path d="M51.8,24.8 V63.4"/><path d="M54.2,24.8 V63.4"/><path d="M56.6,24.8 V63.4"/><path d="M59.0,24.8 V63.4"/><path d="M61.4,24.8 V63.4"/><path d="M63.8,24.8 V63.4"/><path d="M66.2,24.8 V63.4"/><path d="M68.6,24.8 V63.4"/><path d="M71.0,24.8 V63.4"/><path d="M73.4,24.8 V63.4"/><path d="M75.8,24.8 V63.4"/><path d="M78.2,24.8 V63.4"/><path d="M80.6,24.8 V63.4"/><path d="M83.0,24.8 V63.4"/><path d="M85.4,24.8 V63.4"/><path d="M87.8,24.8 V63.4"/><path d="M90.2,24.8 V63.4"/><path d="M92.6,24.8 V63.4"/><path d="M95.0,24.8 V63.4"/><path d="M97.4,24.8 V63.4"/><path d="M99.8,24.8 V63.4"/><path d="M102.2,24.8 V63.4"/><path d="M104.6,24.8 V63.4"/><path d="M107.0,24.8 V63.4"/><path d="M109.4,24.8 V63.4"/><path d="M111.8,24.8 V63.4"/><path d="M114.2,24.8 V63.4"/><path d="M116.6,24.8 V63.4"/><path d="M119.0,24.8 V63.4"/><path d="M121.4,24.8 V63.4"/><path d="M123.8,24.8 V63.4"/><path d="M126.2,24.8 V63.4"/></g>
<rect x="11.9" y="21.7" width="113.6" height="8.5" fill="#b4b4b4" opacity="0.3" filter="url(#soft)"/>
<g stroke="#6a6a6a" stroke-width="1.2" fill="none" filter="url(#soft)">
<path d="M9.8,0 V92.4" stroke="#777" stroke-width="1"/><path d="M127.3,0 V92.4" stroke="#999" stroke-width="0.9"/>
<path d="M9.8,63.4 H127.3" stroke="#666" stroke-width="1"/>
<path d="M9.8,49.4 L38.3,49.4 L54.1,43.8 L70.0,39.1 L84.5,36.2 L98.5,34.9"/>
<path d="M38.3,49.4 L54.1,53.9 L67.4,56.5 L83.2,55.5 L107.0,52.0 L117.5,52.6 L127.3,53.9"/>
<path d="M52.8,53.4 L62.1,50.7" stroke-width="1"/>
<path d="M67.4,56.5 L75.3,60.2 L81.1,62.9" stroke-width="1"/>
<path d="M83.2,55.5 L96.4,59.7 L112.3,61.3" stroke-width="1"/>
<path d="M97.7,53.9 L109.6,57.6 L120.2,58.6" stroke-width="0.9"/>
<path d="M107.0,52.0 L118.9,48.1 L126.0,46.0" stroke-width="1"/>
<path d="M125.5,42.3 L125.5,47.0" stroke="#333" stroke-width="1.2"/>
<path d="M99.6,34.9 L100.1,44.1" stroke="#999" stroke-width="0.7"/>
</g>
<g fill="#161616" filter="url(#soft)"><ellipse cx="11.9" cy="11.1" rx="1.45" ry="1.75"/><ellipse cx="41.5" cy="11.1" rx="1.45" ry="1.75"/><ellipse cx="69.5" cy="11.1" rx="1.45" ry="1.75"/><ellipse cx="97.7" cy="11.1" rx="1.45" ry="1.75"/><ellipse cx="125.5" cy="9.0" rx="2.3" ry="1.7" transform="rotate(-35 125.5 9.0)"/><ellipse cx="12.4" cy="33.0" rx="1.45" ry="1.75"/><ellipse cx="41.5" cy="33.0" rx="1.45" ry="1.75"/><ellipse cx="70.0" cy="33.0" rx="1.45" ry="1.75"/><ellipse cx="98.5" cy="33.8" rx="2.3" ry="1.7" transform="rotate(-35 98.5 33.8)"/><ellipse cx="38.3" cy="62.6" rx="1.45" ry="1.75"/><ellipse cx="67.4" cy="62.6" rx="1.45" ry="1.75"/><ellipse cx="96.4" cy="62.6" rx="2.3" ry="1.7" transform="rotate(-35 96.4 62.6)"/><ellipse cx="124.7" cy="62.6" rx="1.45" ry="1.75"/><ellipse cx="40.9" cy="13.7" rx="0.8" ry="1.3" transform="rotate(20 40.9 13.7)"/><ellipse cx="35.1" cy="19.5" rx="0.8" ry="1.3" transform="rotate(20 35.1 19.5)"/><ellipse cx="80.0" cy="40.7" rx="0.8" ry="1.3" transform="rotate(20 80.0 40.7)"/></g>
<rect x="61.0" y="84.5" width="4.2" height="3.6" fill="#444" filter="url(#soft)"/>
</svg>
</svg></body></html>
